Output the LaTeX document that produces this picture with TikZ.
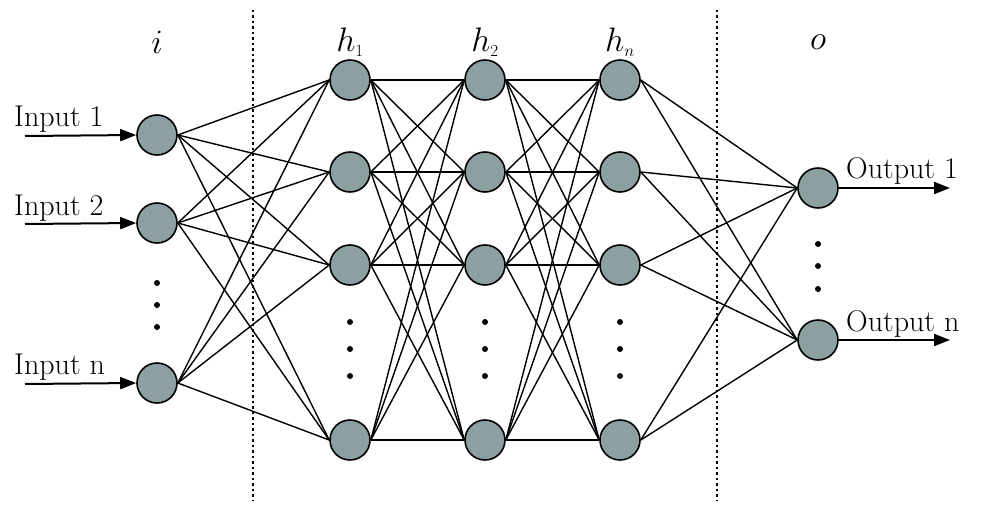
\documentclass[tikz,border=0pt]{standalone}
\usepackage{tikz}
\usepackage{fix-cm}
\usetikzlibrary{arrows.meta}
\definecolor{nodefill}{HTML}{8C9FA1}
\begin{document}
\begin{tikzpicture}[x=1pt,y=-1pt,
  neuron/.style={circle,draw=black,line width=1.6pt,fill=nodefill,minimum size=40pt,inner sep=0pt},
  conn/.style={line width=1.4pt},
  lbl/.style={font=\fontsize{30}{36}\selectfont},
  hd/.style={font=\fontsize{34}{40}\selectfont},
  io/.style={line width=2pt,-{Triangle[length=16pt,width=12pt]}},
  sep/.style={line width=1.5pt,dash pattern=on 2.5pt off 3pt},
  dot/.style={circle,fill=black,inner sep=0pt,minimum size=6pt}]
\useasboundingbox (0,0) rectangle (991,511);
% layers
\node[neuron] (i1) at (157,135) {};
\node[neuron] (i2) at (157,223) {};
\node[neuron] (i3) at (157,383) {};
\foreach \l/\x in {a/350,b/485,c/620}{
  \node[neuron] (\l1) at (\x,80) {};
  \node[neuron] (\l2) at (\x,172) {};
  \node[neuron] (\l3) at (\x,265) {};
  \node[neuron] (\l4) at (\x,440) {};
  \foreach \y [count=\k] in {322,349,376}{\node[dot] (\l d\k) at (\x,\y) {};}
}
\node[neuron] (o1) at (818,188) {};
\node[neuron] (o2) at (818,340) {};
\foreach \y [count=\k] in {283,305,327}{\node[dot] (id\k) at (157,\y) {};}
\foreach \y [count=\k] in {244,266,289}{\node[dot] (od\k) at (818,\y) {};}
% connections
\foreach \s in {1,2,3}{\foreach \t in {1,2,3,4}{\draw[conn] (i\s.east) -- (a\t.west);}}
\foreach \s in {1,2,3,4}{\foreach \t in {1,2,3,4}{
  \draw[conn] (a\s.east) -- (b\t.west);
  \draw[conn] (b\s.east) -- (c\t.west);}}
\foreach \s in {1,2,3,4}{\foreach \t in {1,2}{\draw[conn] (c\s.east) -- (o\t.west);}}
% separators
\coordinate (s1t) at (253,10); \coordinate (s1b) at (253,500);
\coordinate (s2t) at (717,10); \coordinate (s2b) at (717,500);
\draw[sep] (s1t) -- (s1b);
\draw[sep] (s2t) -- (s2b);
% headers
\node[hd] (hi) at (157,42) {$i$};
\node[hd] (h1) at (350,42) {$h_{\scriptscriptstyle 1}$};
\node[hd] (h2) at (485,42) {$h_{\scriptscriptstyle 2}$};
\node[hd] (hn) at (620,42) {$h_{\scriptscriptstyle n}$};
\node[hd] (ho) at (818,42) {$o$};
% inputs
\coordinate (a1s) at (25,136); \coordinate (a2s) at (25,224); \coordinate (a3s) at (25,384);
\draw[io] (a1s) -- (i1.west);
\draw[io] (a2s) -- (i2.west);
\draw[io] (a3s) -- (i3.west);
\node[lbl,anchor=base west,inner sep=0pt] (t1) at (14,126) {Input 1};
\node[lbl,anchor=base west,inner sep=0pt] (t2) at (14,215) {Input 2};
\node[lbl,anchor=base west,inner sep=0pt] (t3) at (14,374) {Input n};
% outputs
\coordinate (o1e) at (950,188); \coordinate (o2e) at (950,340);
\draw[io] (o1.east) -- (o1e);
\draw[io] (o2.east) -- (o2e);
\node[lbl,anchor=base west,inner sep=0pt] (u1) at (846,178) {Output 1};
\node[lbl,anchor=base west,inner sep=0pt] (u2) at (846,331) {Output n};
\end{tikzpicture}
\end{document}
